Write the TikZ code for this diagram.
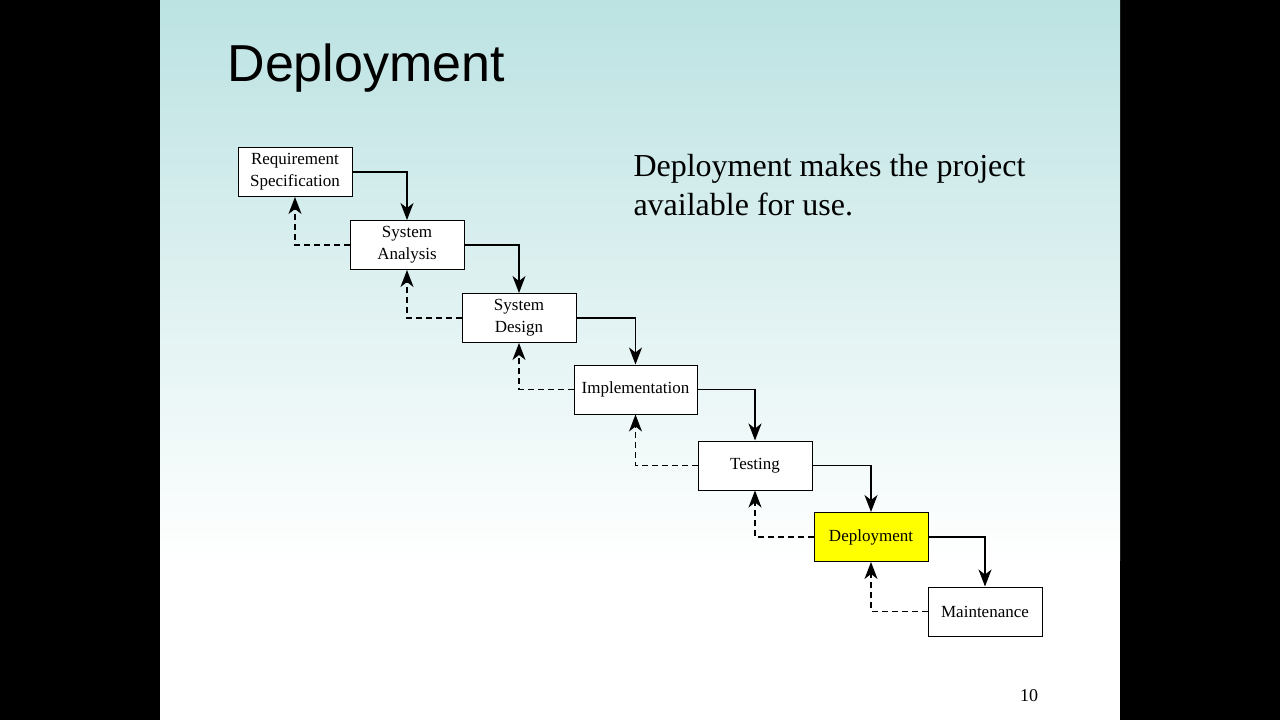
\documentclass[tikz,border=0pt]{standalone}
\usepackage{fontspec}
\setmainfont{Liberation Serif}
\newfontfamily\titlefont{Liberation Sans}
\usetikzlibrary{arrows.meta,positioning}
\definecolor{slidetop}{RGB}{188,226,226}
\definecolor{boxyellow}{RGB}{255,255,0}
\tikzset{
  stagebox/.style={draw, fill=white, line width=1pt, minimum width=114pt, minimum height=49pt, align=center, font=\fontsize{17}{22}\selectfont, inner sep=1pt},
  flow/.style={line width=1.2pt, -{Stealth[length=17pt,width=13pt,inset=5pt]}},
  back/.style={flow, dash pattern=on 6pt off 4pt}
}
\begin{document}
\begin{tikzpicture}[x=1pt,y=-1pt]
		\useasboundingbox (0,0) rectangle (1280,720);
		\fill[black] (0,0) rectangle (1280,720);
		\shade[top color=slidetop, bottom color=white] (160,0) rectangle (1120,560);
		\fill[white] (160,560) rectangle (1120,720);
		\node[anchor=west, font=\titlefont\fontsize{52}{56}\selectfont] (title) at (224,68) {Deployment};
		\node[anchor=north west, align=left, font=\fontsize{32}{39}\selectfont] (note) at (630,151) {Deployment makes the project\\available for use.};
		\node[font=\fontsize{18}{20}\selectfont] (page) at (1029,696) {10};
		% stages
		\node[stagebox] (req) at (295,172) {Requirement\\Specification};
		\node[stagebox] (ana) at (407,245) {System\\Analysis};
		\node[stagebox] (des) at (519,318) {System\\Design};
		\node[stagebox, minimum width=123pt] (imp) at (635.5,389.5) {Implementation};
		\node[stagebox] (tst) at (755,465.5) {Testing};
		\node[stagebox, fill=boxyellow] (dep) at (871,537) {Deployment};
		\node[stagebox] (mnt) at (985,611.5) {Maintenance};
		% forward
		\foreach \a/\b in {req/ana, ana/des, des/imp, imp/tst, tst/dep, dep/mnt}
			\draw[flow] (\a.east) -| (\b.north);
		% feedback
		\foreach \a/\b in {ana/req, des/ana, imp/des, tst/imp, dep/tst, mnt/dep}
			\draw[back] (\a.west) -| (\b.south);
\end{tikzpicture}
\end{document}
